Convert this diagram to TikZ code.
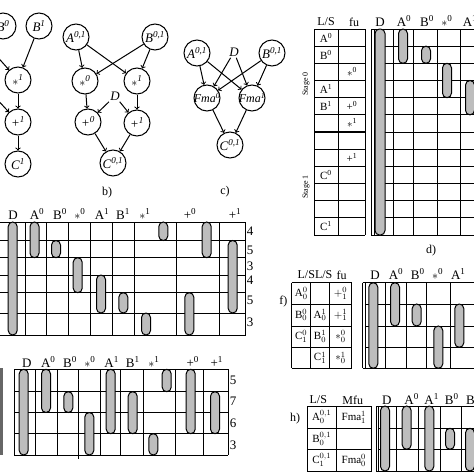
\documentclass[tikz,border=0pt]{standalone}
\usepackage{fontspec}
\setmainfont{Liberation Serif}
\newlength{\du}
\setlength{\du}{10\unitlength}
\definecolor{pillgray}{rgb}{0.740000, 0.740000, 0.740000}
\definecolor{bargray}{rgb}{0.400000, 0.400000, 0.400000}
\tikzset{
  opnode/.style={circle, draw, minimum size=2.6\du, inner sep=0pt, font=\fontsize{13}{13}\selectfont\itshape},
  fmanode/.style={opnode, inner sep=-2pt, font=\fontsize{12}{12}\selectfont\itshape},
  arrowline/.style={->, >=to},
  pillbar/.style={draw, fill=pillgray, rounded corners=0.45\du},
  hdr/.style={inner sep=0pt, font=\fontsize{13}{13}\selectfont},
  cell/.style={inner sep=0pt, font=\fontsize{11}{11}\selectfont},
  panel/.style={inner sep=0pt, font=\fontsize{12}{12}\selectfont},
  stagetxt/.style={inner sep=0pt, rotate=90, font=\fontsize{8}{8}\selectfont},
}
\begin{document}
\begin{tikzpicture}
\pgftransformxscale{1.000000}
\pgftransformyscale{-1.000000}
\useasboundingbox (0.000000\du,0.000000\du) rectangle (47.400000\du,47.400000\du);
\clip (0.000000\du,0.000000\du) rectangle (47.400000\du,47.400000\du);
\definecolor{dialinecolor}{rgb}{0.000000, 0.000000, 0.000000}
\pgfsetstrokecolor{dialinecolor}
\pgfsetlinewidth{0.100000\du}
% graph a
\node[opnode] (aB0) at (0.300000\du,2.600000\du){B\textsuperscript{0}};
\node[opnode] (aB1) at (3.900000\du,2.600000\du){B\textsuperscript{1}};
\node[opnode] (aMul1) at (1.800000\du,8.000000\du){$\ast$\textsuperscript{1}};
\node[opnode] (aAdd1) at (1.800000\du,12.200000\du){+\textsuperscript{1}};
\node[opnode] (aC1) at (1.800000\du,16.400000\du){C\textsuperscript{1}};
\coordinate (aInA) at (-0.600000\du,5.300000\du);
\coordinate (aInD) at (-0.600000\du,9.600000\du);
\draw[arrowline] (aB1) -- (aMul1);
\draw[arrowline] (aInA) -- (aMul1);
\draw[arrowline] (aMul1) -- (aAdd1);
\draw[arrowline] (aInD) -- (aAdd1);
\draw[arrowline] (aAdd1) -- (aC1);
% graph b
\node[opnode] (bA) at (7.600000\du,3.700000\du){A\textsuperscript{0,1}};
\node[opnode] (bB) at (15.500000\du,3.700000\du){B\textsuperscript{0,1}};
\node[opnode] (bMul0) at (8.500000\du,8.100000\du){$\ast$\textsuperscript{0}};
\node[opnode] (bMul1) at (13.700000\du,8.100000\du){$\ast$\textsuperscript{1}};
\node[hdr, font=\fontsize{13}{13}\selectfont\itshape, inner sep=1pt] (bD) at (11.500000\du,9.600000\du){D};
\node[opnode] (bAdd0) at (8.800000\du,12.200000\du){+\textsuperscript{0}};
\node[opnode] (bAdd1) at (13.700000\du,12.300000\du){+\textsuperscript{1}};
\node[opnode] (bC) at (11.300000\du,16.300000\du){C\textsuperscript{0,1}};
\draw[arrowline] (bA) -- (bMul0);
\draw[arrowline] (bA) -- (bMul1);
\draw[arrowline] (bB) -- (bMul0);
\draw[arrowline] (bB) -- (bMul1);
\draw[arrowline] (bMul0) -- (bAdd0);
\draw[arrowline] (bMul1) -- (bAdd1);
\draw[arrowline] (bD) -- (bAdd0);
\draw[arrowline] (bD) -- (bAdd1);
\draw[arrowline] (bAdd0) -- (bC);
\draw[arrowline] (bAdd1) -- (bC);
% setfont left to latex
\node[panel] (bLabel) at (10.700000\du,19.300000\du){b)};
% graph c
\node[opnode] (cA) at (19.700000\du,5.300000\du){A\textsuperscript{0,1}};
\node[hdr, font=\fontsize{13}{13}\selectfont\itshape, inner sep=1pt] (cD) at (23.400000\du,5.200000\du){D};
\node[opnode] (cB) at (27.200000\du,5.300000\du){B\textsuperscript{0,1}};
\node[fmanode] (cFma0) at (20.700000\du,9.800000\du){Fma\textsuperscript{0}};
\node[fmanode] (cFma1) at (25.200000\du,9.800000\du){Fma\textsuperscript{1}};
\node[opnode] (cC) at (23.000000\du,14.500000\du){C\textsuperscript{0,1}};
\draw[arrowline] (cA) -- (cFma0);
\draw[arrowline] (cA) -- (cFma1);
\draw[arrowline] (cD) -- (cFma0);
\draw[arrowline] (cD) -- (cFma1);
\draw[arrowline] (cB) -- (cFma0);
\draw[arrowline] (cB) -- (cFma1);
\draw[arrowline] (cFma0) -- (cC);
\draw[arrowline] (cFma1) -- (cC);
% setfont left to latex
\node[panel] (cLabel) at (22.500000\du,19.200000\du){c)};
% table d
\draw (31.400000\du,2.900000\du)--(31.400000\du,23.500000\du);
\draw (33.800000\du,2.900000\du)--(33.800000\du,23.500000\du);
\draw (36.500000\du,2.900000\du)--(36.500000\du,23.500000\du);
\draw (31.400000\du,2.900000\du)--(36.500000\du,2.900000\du);
\draw (31.400000\du,4.617000\du)--(36.500000\du,4.617000\du);
\draw (31.400000\du,6.333000\du)--(36.500000\du,6.333000\du);
\draw (31.400000\du,8.050000\du)--(36.500000\du,8.050000\du);
\draw (31.400000\du,9.767000\du)--(36.500000\du,9.767000\du);
\draw (31.400000\du,11.483000\du)--(36.500000\du,11.483000\du);
\draw[line width=0.220000\du] (31.400000\du,13.200000\du)--(36.500000\du,13.200000\du);
\draw (31.400000\du,14.917000\du)--(36.500000\du,14.917000\du);
\draw (31.400000\du,16.633000\du)--(36.500000\du,16.633000\du);
\draw (31.400000\du,18.350000\du)--(36.500000\du,18.350000\du);
\draw (31.400000\du,20.067000\du)--(36.500000\du,20.067000\du);
\draw (31.400000\du,21.783000\du)--(36.500000\du,21.783000\du);
\draw (31.400000\du,23.500000\du)--(36.500000\du,23.500000\du);
\draw (37.100000\du,2.900000\du)--(37.100000\du,23.500000\du);
\draw (37.400000\du,2.900000\du)--(37.400000\du,23.500000\du);
\draw (39.300000\du,2.900000\du)--(39.300000\du,23.500000\du);
\draw (41.300000\du,2.900000\du)--(41.300000\du,23.500000\du);
\draw (43.700000\du,2.900000\du)--(43.700000\du,23.500000\du);
\draw (46.000000\du,2.900000\du)--(46.000000\du,23.500000\du);
\draw (37.100000\du,2.900000\du)--(47.400000\du,2.900000\du);
\draw (37.400000\du,4.617000\du)--(47.400000\du,4.617000\du);
\draw (37.400000\du,6.333000\du)--(47.400000\du,6.333000\du);
\draw (37.400000\du,8.050000\du)--(47.400000\du,8.050000\du);
\draw (37.400000\du,9.767000\du)--(47.400000\du,9.767000\du);
\draw (37.400000\du,11.483000\du)--(47.400000\du,11.483000\du);
\draw (37.400000\du,13.200000\du)--(47.400000\du,13.200000\du);
\draw (37.400000\du,14.917000\du)--(47.400000\du,14.917000\du);
\draw (37.400000\du,16.633000\du)--(47.400000\du,16.633000\du);
\draw (37.400000\du,18.350000\du)--(47.400000\du,18.350000\du);
\draw (37.400000\du,20.067000\du)--(47.400000\du,20.067000\du);
\draw (37.400000\du,21.783000\du)--(47.400000\du,21.783000\du);
\draw (37.100000\du,23.500000\du)--(47.400000\du,23.500000\du);
\filldraw[pillbar] (37.500000\du,2.900000\du) rectangle (38.500000\du,23.500000\du);
\filldraw[pillbar] (39.850000\du,2.900000\du) rectangle (40.750000\du,6.333000\du);
\filldraw[pillbar] (42.150000\du,4.617000\du) rectangle (43.050000\du,6.333000\du);
\filldraw[pillbar] (44.250000\du,6.333000\du) rectangle (45.150000\du,9.767000\du);
\filldraw[pillbar] (46.550000\du,8.050000\du) rectangle (47.450000\du,11.483000\du);
% setfont left to latex
\node[hdr, font=\fontsize{12}{12}\selectfont] (dhLS) at (32.600000\du,2.200000\du){L/S};
\node[hdr, font=\fontsize{12}{12}\selectfont] (dhFu) at (35.400000\du,2.200000\du){fu};
\node[hdr] (dhD) at (38.000000\du,2.200000\du){D};
\node[hdr] (dhA0) at (40.400000\du,2.100000\du){A\textsuperscript{0}};
\node[hdr] (dhB0) at (42.700000\du,2.100000\du){B\textsuperscript{0}};
\node[hdr] (dhM0) at (44.700000\du,2.100000\du){$\ast$\textsuperscript{0}};
\node[hdr] (dhA1) at (47.000000\du,2.100000\du){A\textsuperscript{1}};
\node[cell] (dA0) at (32.600000\du,3.758000\du){A\textsuperscript{0}};
\node[cell] (dB0) at (32.600000\du,5.475000\du){B\textsuperscript{0}};
\node[cell] (dA1) at (32.600000\du,8.908000\du){A\textsuperscript{1}};
\node[cell] (dB1) at (32.600000\du,10.625000\du){B\textsuperscript{1}};
\node[cell] (dC0) at (32.600000\du,17.492000\du){C\textsuperscript{0}};
\node[cell] (dC1) at (32.600000\du,22.642000\du){C\textsuperscript{1}};
\node[cell] (dMul0) at (35.200000\du,7.192000\du){$\ast$\textsuperscript{0}};
\node[cell] (dAdd0) at (35.200000\du,10.625000\du){+\textsuperscript{0}};
\node[cell] (dMul1) at (35.200000\du,12.342000\du){$\ast$\textsuperscript{1}};
\node[cell] (dAdd1) at (35.200000\du,15.775000\du){+\textsuperscript{1}};
\node[stagetxt] (dStage0) at (30.600000\du,8.400000\du){Stage 0};
\node[stagetxt] (dStage1) at (30.600000\du,18.700000\du){Stage 1};
\node[panel] (dLabel) at (43.100000\du,25.100000\du){d)};
% table e
\draw (0.000000\du,22.200000\du)--(24.550000\du,22.200000\du);
\draw (0.000000\du,24.050000\du)--(24.550000\du,24.050000\du);
\draw (0.000000\du,25.770000\du)--(24.550000\du,25.770000\du);
\draw (0.000000\du,27.500000\du)--(24.550000\du,27.500000\du);
\draw (0.000000\du,29.270000\du)--(24.550000\du,29.270000\du);
\draw (0.000000\du,31.300000\du)--(24.550000\du,31.300000\du);
\draw (0.000000\du,33.500000\du)--(24.550000\du,33.500000\du);
\draw (2.500000\du,22.200000\du)--(2.500000\du,33.500000\du);
\draw (4.650000\du,22.200000\du)--(4.650000\du,33.500000\du);
\draw (6.830000\du,22.200000\du)--(6.830000\du,33.500000\du);
\draw (9.070000\du,22.200000\du)--(9.070000\du,33.500000\du);
\draw (11.270000\du,22.200000\du)--(11.270000\du,33.500000\du);
\draw (13.430000\du,22.200000\du)--(13.430000\du,33.500000\du);
\draw (17.600000\du,22.200000\du)--(17.600000\du,33.500000\du);
\draw (21.930000\du,22.200000\du)--(21.930000\du,33.500000\du);
\draw (24.550000\du,22.200000\du)--(24.550000\du,33.500000\du);
\filldraw[pillbar] (0.820000\du,22.200000\du) rectangle (1.720000\du,33.500000\du);
\filldraw[pillbar] (3.000000\du,22.200000\du) rectangle (3.900000\du,25.770000\du);
\filldraw[pillbar] (5.150000\du,24.050000\du) rectangle (6.050000\du,25.770000\du);
\filldraw[pillbar] (7.320000\du,25.770000\du) rectangle (8.220000\du,29.270000\du);
\filldraw[pillbar] (9.650000\du,27.500000\du) rectangle (10.550000\du,31.300000\du);
\filldraw[pillbar] (11.880000\du,29.270000\du) rectangle (12.780000\du,31.300000\du);
\filldraw[pillbar] (14.150000\du,31.300000\du) rectangle (15.050000\du,33.500000\du);
\filldraw[pillbar] (15.880000\du,22.200000\du) rectangle (16.780000\du,24.050000\du);
\filldraw[pillbar] (18.480000\du,29.270000\du) rectangle (19.380000\du,33.500000\du);
\filldraw[pillbar] (20.220000\du,22.200000\du) rectangle (21.120000\du,25.770000\du);
\filldraw[pillbar] (22.820000\du,24.050000\du) rectangle (23.720000\du,31.300000\du);
% setfont left to latex
\node[hdr] (eD) at (1.300000\du,21.500000\du){D};
\node[hdr] (eA0) at (3.700000\du,21.400000\du){A\textsuperscript{0}};
\node[hdr] (eB0) at (6.000000\du,21.400000\du){B\textsuperscript{0}};
\node[hdr] (eM0) at (8.000000\du,21.400000\du){$\ast$\textsuperscript{0}};
\node[hdr] (eA1) at (10.200000\du,21.400000\du){A\textsuperscript{1}};
\node[hdr] (eB1) at (12.300000\du,21.400000\du){B\textsuperscript{1}};
\node[hdr] (eM1) at (14.500000\du,21.400000\du){$\ast$\textsuperscript{1}};
\node[hdr] (eP0) at (19.000000\du,21.400000\du){+\textsuperscript{0}};
\node[hdr] (eP1) at (23.500000\du,21.400000\du){+\textsuperscript{1}};
\node[hdr] (eN1) at (25.000000\du,23.170000\du){4};
\node[hdr] (eN2) at (25.000000\du,25.000000\du){5};
\node[hdr] (eN3) at (25.000000\du,26.600000\du){3};
\node[hdr] (eN4) at (25.000000\du,28.070000\du){4};
\node[hdr] (eN5) at (25.000000\du,30.000000\du){5};
\node[hdr] (eN6) at (25.000000\du,32.270000\du){3};
% table f
\draw (29.170000\du,28.270000\du)--(29.170000\du,36.830000\du);
\draw (31.070000\du,28.270000\du)--(31.070000\du,36.830000\du);
\draw (32.930000\du,28.270000\du)--(32.930000\du,36.830000\du);
\draw (35.170000\du,28.270000\du)--(35.170000\du,36.830000\du);
\draw (29.170000\du,28.270000\du)--(35.170000\du,28.270000\du);
\draw (29.170000\du,30.400000\du)--(35.170000\du,30.400000\du);
\draw (29.170000\du,32.600000\du)--(35.170000\du,32.600000\du);
\draw (29.170000\du,34.730000\du)--(35.170000\du,34.730000\du);
\draw (29.170000\du,36.830000\du)--(35.170000\du,36.830000\du);
\draw (36.270000\du,28.270000\du)--(36.270000\du,36.830000\du);
\draw (36.500000\du,28.270000\du)--(36.500000\du,36.830000\du);
\draw (38.500000\du,28.270000\du)--(38.500000\du,36.830000\du);
\draw (40.600000\du,28.270000\du)--(40.600000\du,36.830000\du);
\draw (42.670000\du,28.270000\du)--(42.670000\du,36.830000\du);
\draw (45.000000\du,28.270000\du)--(45.000000\du,36.830000\du);
\draw (36.270000\du,28.270000\du)--(47.400000\du,28.270000\du);
\draw (36.500000\du,30.400000\du)--(47.400000\du,30.400000\du);
\draw (36.500000\du,32.600000\du)--(47.400000\du,32.600000\du);
\draw (36.500000\du,34.730000\du)--(47.400000\du,34.730000\du);
\draw (36.270000\du,36.830000\du)--(47.400000\du,36.830000\du);
\filldraw[pillbar] (36.880000\du,28.270000\du) rectangle (37.780000\du,36.830000\du);
\filldraw[pillbar] (39.050000\du,28.270000\du) rectangle (39.950000\du,32.600000\du);
\filldraw[pillbar] (41.220000\du,30.400000\du) rectangle (42.120000\du,32.600000\du);
\filldraw[pillbar] (43.380000\du,32.600000\du) rectangle (44.280000\du,36.830000\du);
\filldraw[pillbar] (45.480000\du,30.400000\du) rectangle (46.380000\du,34.730000\du);
% setfont left to latex
\node[panel] (fLabel) at (28.330000\du,30.170000\du){f)};
\node[hdr, font=\fontsize{12}{12}\selectfont] (fhLS) at (31.500000\du,27.500000\du){L/SL/S};
\node[hdr, font=\fontsize{12}{12}\selectfont] (fhFu) at (34.170000\du,27.500000\du){fu};
\node[hdr] (fhD) at (37.500000\du,27.500000\du){D};
\node[hdr] (fhA0) at (39.600000\du,27.400000\du){A\textsuperscript{0}};
\node[hdr] (fhB0) at (41.770000\du,27.400000\du){B\textsuperscript{0}};
\node[hdr] (fhM0) at (43.770000\du,27.400000\du){$\ast$\textsuperscript{0}};
\node[hdr] (fhA1) at (45.830000\du,27.400000\du){A\textsuperscript{1}};
\node[cell] (fA0) at (30.120000\du,29.330000\du){$\mathrm{A}^{0}_{0}$};
\node[cell] (fAdd0) at (34.050000\du,29.330000\du){$+^{0}_{1}$};
\node[cell] (fB0) at (30.120000\du,31.500000\du){$\mathrm{B}^{0}_{0}$};
\node[cell] (fA1) at (32.000000\du,31.500000\du){$\mathrm{A}^{1}_{0}$};
\node[cell] (fAdd1) at (34.050000\du,31.500000\du){$+^{1}_{1}$};
\node[cell] (fC0) at (30.120000\du,33.670000\du){$\mathrm{C}^{0}_{1}$};
\node[cell] (fB1) at (32.000000\du,33.670000\du){$\mathrm{B}^{1}_{0}$};
\node[cell] (fMul0) at (34.050000\du,33.670000\du){$\ast^{0}_{0}$};
\node[cell] (fC1) at (32.000000\du,35.780000\du){$\mathrm{C}^{1}_{1}$};
\node[cell] (fMul1) at (34.050000\du,35.780000\du){$\ast^{1}_{0}$};
% table g
\fill[bargray] (0.000000\du,36.800000\du) rectangle (0.270000\du,45.500000\du);
\draw (1.400000\du,36.930000\du)--(22.800000\du,36.930000\du);
\draw (1.400000\du,39.170000\du)--(22.800000\du,39.170000\du);
\draw (1.400000\du,41.250000\du)--(22.800000\du,41.250000\du);
\draw (1.400000\du,43.370000\du)--(22.800000\du,43.370000\du);
\draw (1.400000\du,45.500000\du)--(22.800000\du,45.500000\du);
\draw (1.400000\du,36.930000\du)--(1.400000\du,45.500000\du);
\draw (3.570000\du,36.930000\du)--(3.570000\du,45.500000\du);
\draw (5.770000\du,36.930000\du)--(5.770000\du,45.500000\du);
\draw (7.830000\du,36.930000\du)--(7.830000\du,45.900000\du);
\draw (10.000000\du,36.930000\du)--(10.000000\du,45.500000\du);
\draw (12.070000\du,36.930000\du)--(12.070000\du,45.500000\du);
\draw (14.330000\du,36.930000\du)--(14.330000\du,45.500000\du);
\draw (17.530000\du,36.930000\du)--(17.530000\du,45.500000\du);
\draw (20.330000\du,36.930000\du)--(20.330000\du,45.500000\du);
\draw (22.800000\du,36.930000\du)--(22.800000\du,45.500000\du);
\filldraw[pillbar] (1.920000\du,36.930000\du) rectangle (2.820000\du,45.500000\du);
\filldraw[pillbar] (4.150000\du,36.930000\du) rectangle (5.050000\du,41.250000\du);
\filldraw[pillbar] (6.380000\du,39.170000\du) rectangle (7.280000\du,41.250000\du);
\filldraw[pillbar] (8.480000\du,41.250000\du) rectangle (9.380000\du,45.500000\du);
\filldraw[pillbar] (10.620000\du,36.930000\du) rectangle (11.520000\du,43.370000\du);
\filldraw[pillbar] (12.820000\du,39.170000\du) rectangle (13.720000\du,43.370000\du);
\filldraw[pillbar] (16.220000\du,36.930000\du) rectangle (17.120000\du,39.170000\du);
\filldraw[pillbar] (14.880000\du,43.370000\du) rectangle (15.780000\du,45.500000\du);
\filldraw[pillbar] (18.620000\du,36.930000\du) rectangle (19.520000\du,43.370000\du);
\filldraw[pillbar] (21.050000\du,39.170000\du) rectangle (21.950000\du,43.370000\du);
% setfont left to latex
\node[hdr] (gD) at (2.670000\du,36.300000\du){D};
\node[hdr] (gA0) at (4.830000\du,36.200000\du){A\textsuperscript{0}};
\node[hdr] (gB0) at (7.000000\du,36.200000\du){B\textsuperscript{0}};
\node[hdr] (gM0) at (9.000000\du,36.200000\du){$\ast$\textsuperscript{0}};
\node[hdr] (gA1) at (11.170000\du,36.200000\du){A\textsuperscript{1}};
\node[hdr] (gB1) at (13.270000\du,36.200000\du){B\textsuperscript{1}};
\node[hdr] (gM1) at (15.400000\du,36.200000\du){$\ast$\textsuperscript{1}};
\node[hdr] (gP0) at (19.270000\du,36.200000\du){+\textsuperscript{0}};
\node[hdr] (gP1) at (21.670000\du,36.200000\du){+\textsuperscript{1}};
\node[hdr] (gN1) at (23.300000\du,38.000000\du){5};
\node[hdr] (gN2) at (23.300000\du,40.170000\du){7};
\node[hdr] (gN3) at (23.300000\du,42.330000\du){6};
\node[hdr] (gN4) at (23.300000\du,44.500000\du){3};
% table h
\draw (30.730000\du,40.600000\du)--(30.730000\du,47.100000\du);
\draw (33.600000\du,40.600000\du)--(33.600000\du,47.100000\du);
\draw (37.170000\du,40.600000\du)--(37.170000\du,47.100000\du);
\draw (30.730000\du,40.600000\du)--(37.170000\du,40.600000\du);
\draw (30.730000\du,42.830000\du)--(37.170000\du,42.830000\du);
\draw (30.730000\du,44.930000\du)--(37.170000\du,44.930000\du);
\draw (30.730000\du,47.100000\du)--(37.170000\du,47.100000\du);
\draw (37.600000\du,40.600000\du)--(37.600000\du,47.100000\du);
\draw (37.830000\du,40.600000\du)--(37.830000\du,47.100000\du);
\draw (39.670000\du,40.600000\du)--(39.670000\du,47.100000\du);
\draw (41.830000\du,40.600000\du)--(41.830000\du,47.100000\du);
\draw (44.000000\du,40.600000\du)--(44.000000\du,47.100000\du);
\draw (46.170000\du,40.600000\du)--(46.170000\du,47.100000\du);
\draw (37.600000\du,40.600000\du)--(47.400000\du,40.600000\du);
\draw (37.830000\du,42.830000\du)--(47.400000\du,42.830000\du);
\draw (37.830000\du,44.930000\du)--(47.400000\du,44.930000\du);
\draw (37.600000\du,47.100000\du)--(47.400000\du,47.100000\du);
\filldraw[pillbar] (38.050000\du,40.600000\du) rectangle (38.950000\du,47.100000\du);
\filldraw[pillbar] (40.220000\du,40.600000\du) rectangle (41.120000\du,44.930000\du);
\filldraw[pillbar] (42.480000\du,40.600000\du) rectangle (43.380000\du,47.100000\du);
\filldraw[pillbar] (44.550000\du,42.830000\du) rectangle (45.450000\du,44.930000\du);
\filldraw[pillbar] (46.550000\du,42.830000\du) rectangle (47.450000\du,47.100000\du);
% setfont left to latex
\node[panel] (hLabel) at (29.500000\du,41.830000\du){h)};
\node[hdr, font=\fontsize{12}{12}\selectfont] (hhLS) at (31.830000\du,40.000000\du){L/S};
\node[hdr, font=\fontsize{12}{12}\selectfont] (hhMfu) at (35.270000\du,40.000000\du){Mfu};
\node[hdr] (hhD) at (38.670000\du,40.000000\du){D};
\node[hdr] (hhA0) at (41.170000\du,39.900000\du){A\textsuperscript{0}};
\node[hdr] (hhA1) at (43.170000\du,39.900000\du){A\textsuperscript{1}};
\node[hdr] (hhB0) at (45.170000\du,39.900000\du){B\textsuperscript{0}};
\node[hdr] (hhB1) at (47.300000\du,39.900000\du){B\textsuperscript{1}};
\node[cell] (hA) at (32.170000\du,41.720000\du){$\mathrm{A}^{0,1}_{0}$};
\node[cell] (hFma1) at (35.380000\du,41.720000\du){$\mathrm{Fma}^{1}_{1}$};
\node[cell] (hB) at (32.170000\du,43.880000\du){$\mathrm{B}^{0,1}_{0}$};
\node[cell] (hC) at (32.170000\du,46.020000\du){$\mathrm{C}^{0,1}_{1}$};
\node[cell] (hFma0) at (35.380000\du,46.020000\du){$\mathrm{Fma}^{0}_{0}$};
\end{tikzpicture}
\end{document}
